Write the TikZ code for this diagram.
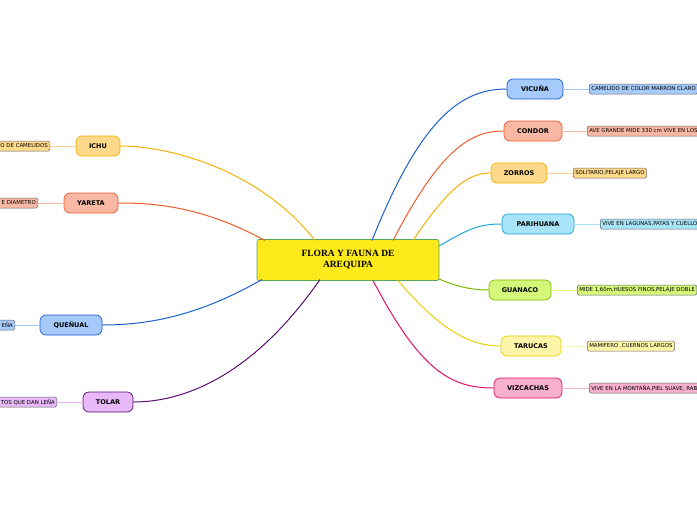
\documentclass[tikz,border=0pt]{standalone}
\usepackage{fontspec}
\setsansfont{DejaVu Sans}
\setmainfont{Liberation Serif}
\begin{document}
\begin{tikzpicture}[x=1pt,y=-1pt,
 topic/.style={draw=#1,rounded corners=6pt,minimum height=20pt,font=\sffamily\bfseries\fontsize{6.5}{7}\selectfont,inner xsep=2pt,line width=0.7pt},
 leaf/.style={draw=gray!80!black,rounded corners=1.5pt,minimum height=10pt,inner sep=2pt,font=\sffamily\fontsize{5.4}{6}\selectfont,line width=0.5pt},
 lleaf/.style={leaf,anchor=east,text width=#1,align=right},
 con/.style={line width=1pt,draw=#1},
 lk/.style={line width=0.8pt,draw=#1}]
\useasboundingbox (0,0) rectangle (697,520);
\clip (0,0) rectangle (697,520);
\definecolor{cO}{HTML}{F5B000}\definecolor{fO}{HTML}{FFD98A}
\definecolor{cR}{HTML}{F05A28}\definecolor{fR}{HTML}{F9B8A4}
\definecolor{cB}{HTML}{1A5FD0}\definecolor{fB}{HTML}{A6CBFA}
\definecolor{cP}{HTML}{5A1070}\definecolor{fP}{HTML}{E8B8F8}
\definecolor{cC}{HTML}{1AA8E0}\definecolor{fC}{HTML}{A8E4F8}
\definecolor{cG}{HTML}{7AB800}\definecolor{fG}{HTML}{D4F77A}
\definecolor{cY}{HTML}{E8D000}\definecolor{fY}{HTML}{FFF5A8}
\definecolor{cK}{HTML}{E8106A}\definecolor{fK}{HTML}{F8B0CC}
\node[draw=gray!70!green,fill=yellow!90!orange!90,rounded corners=2pt,minimum width=182pt,minimum height=41pt,align=center,font=\rmfamily\bfseries\fontsize{9.5}{11}\selectfont,line width=0.6pt] (c) at (348,260) {FLORA Y FAUNA DE\\AREQUIPA};
% left topics
\node[topic=cO,fill=fO,minimum width=44pt] (ichu) at (98,146) {ICHU};
\node[topic=cR,fill=fR,minimum width=54pt] (yar) at (91,203) {YARETA};
\node[topic=cB,fill=fB,minimum width=62pt] (que) at (71,325) {QUEÑUAL};
\node[topic=cP,fill=fP,minimum width=50pt] (tol) at (108,402) {TOLAR};
% right topics
\node[topic=cB,fill=fB,minimum width=56pt] (vic) at (535,89) {VICUÑA};
\node[topic=cR,fill=fR,minimum width=58pt] (con) at (533,131) {CONDOR};
\node[topic=cO,fill=fO,minimum width=56pt] (zor) at (519,173) {ZORROS};
\node[topic=cC,fill=fC,minimum width=72pt] (par) at (538,224) {PARIHUANA};
\node[topic=cG,fill=fG,minimum width=62pt] (gua) at (520,290) {GUANACO};
\node[topic=cY,fill=fY,minimum width=60pt] (tar) at (531,346) {TARUCAS};
\node[topic=cK,fill=fK,minimum width=68pt] (viz) at (528,388) {VIZCACHAS};
% left leaves
\node[lleaf=80pt,fill=fO] (l1) at (50,146) {O DE CAMELIDOS};
\node[lleaf=80pt,fill=fR] (l2) at (38,203) {E DIAMETRO};
\node[lleaf=60pt,fill=fB] (l3) at (15,325) {EÑA};
\node[lleaf=90pt,fill=fP] (l4) at (57,402) {TOS QUE DAN LEÑA};
% right leaves
\node[leaf,fill=fB,anchor=west] (r1) at (589,89) {CAMELIDO DE COLOR MARRON CLARO};
\node[leaf,fill=fR,anchor=west] (r2) at (587,131) {AVE GRANDE MIDE 330 cm VIVE EN LOS ANDES};
\node[leaf,fill=fO,anchor=west] (r3) at (573,173) {SOLITARIO,PELAJE LARGO};
\node[leaf,fill=fC,anchor=west] (r4) at (600,224) {VIVE EN LAGUNAS,PATAS Y CUELLO LARGOS};
\node[leaf,fill=fG,anchor=west] (r5) at (577,290) {MIDE 1,60m,HUESOS FINOS,PELAJE DOBLE};
\node[leaf,fill=fY,anchor=west] (r6) at (587,346) {MAMIFERO ,CUERNOS LARGOS};
\node[leaf,fill=fK,anchor=west] (r7) at (589,388) {VIVE EN LA MONTAÑA,PIEL SUAVE, RABO LARGO};
% leaf links
\draw[lk=fO] (l1.east) -- (ichu.west);
\draw[lk=fR] (l2.east) -- (yar.west);
\draw[lk=fB] (l3.east) -- (que.west);
\draw[lk=fP] (l4.east) -- (tol.west);
\draw[lk=fB] (vic.east) -- (r1.west);
\draw[lk=fR] (con.east) -- (r2.west);
\draw[lk=fO] (zor.east) -- (r3.west);
\draw[lk=fC] (par.east) -- (r4.west);
\draw[lk=fG] (gua.east) -- (r5.west);
\draw[lk=fY] (tar.east) -- (r6.west);
\draw[lk=fK] (viz.east) -- (r7.west);
% main connectors
\coordinate (s1) at (315,240.5);\coordinate (s2) at (265,240.5);
\coordinate (s3) at (262,279.5);\coordinate (s4) at (320,279.5);
\coordinate (t1) at (372,240.5);\coordinate (t2) at (393,240.5);
\coordinate (t3) at (413,240.5);\coordinate (t4) at (439,246);
\coordinate (t5) at (439,279);\coordinate (t6) at (398,280.5);
\coordinate (t7) at (373,280.5);
\draw[con=cO] (s1) .. controls (260,170) and (170,146) .. (ichu.east);
\draw[con=cR] (s2) .. controls (200,205) and (150,203) .. (yar.east);
\draw[con=cB] (s3) .. controls (200,315) and (150,325) .. (que.east);
\draw[con=cP] (s4) .. controls (250,380) and (180,402) .. (tol.east);
\draw[con=cB] (t1) .. controls (420,120) and (460,89) .. (vic.west);
\draw[con=cR] (t2) .. controls (440,150) and (470,131) .. (con.west);
\draw[con=cO] (t3) .. controls (450,185) and (470,173) .. (zor.west);
\draw[con=cC] (t4) .. controls (470,228) and (480,224) .. (par.west);
\draw[con=cG] (t5) .. controls (460,288) and (475,290) .. (gua.west);
\draw[con=cY] (t6) .. controls (440,330) and (470,346) .. (tar.west);
\draw[con=cK] (t7) .. controls (420,370) and (450,388) .. (viz.west);
\end{tikzpicture}
\end{document}
